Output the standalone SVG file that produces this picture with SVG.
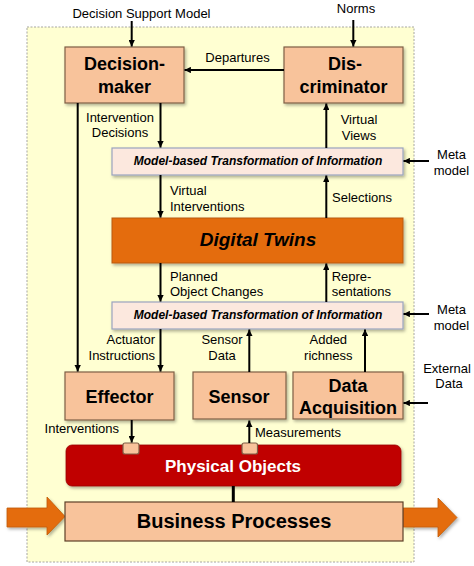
<svg xmlns="http://www.w3.org/2000/svg" width="474" height="566" viewBox="0 0 474 566">
<defs>
<marker id="ah" viewBox="0 0 10 10" refX="10" refY="5" markerWidth="3.2" markerHeight="3.2" orient="auto" markerUnits="strokeWidth">
<path d="M0,0 L10,5 L0,10 z" fill="#000"/>
</marker>
<filter id="sh" x="-10%" y="-10%" width="130%" height="140%">
<feDropShadow dx="1.5" dy="2" stdDeviation="1.5" flood-color="#000" flood-opacity="0.3"/>
</filter>
</defs>
<style>
.lbl{font-family:"Liberation Sans",Arial,sans-serif;font-size:13px;fill:#000}
.box{fill:#f8c39b;stroke:#7f5f46;stroke-width:1.2}
.bt{font-family:"Liberation Sans",Arial,sans-serif;font-size:18px;font-weight:bold;fill:#000;text-anchor:middle}
.mbt{fill:#fce8de;stroke:#9aa3bf;stroke-width:1.2}
.mt{font-family:"Liberation Sans",Arial,sans-serif;font-size:12px;font-weight:bold;font-style:italic;fill:#000;text-anchor:middle}
.ar{stroke:#000;stroke-width:2;fill:none;marker-end:url(#ah)}
.mid{text-anchor:middle}
.end{text-anchor:end}
</style>

<rect id="panel" x="27" y="27" width="387" height="535" fill="#ffffd2" stroke="#a6a6a0" stroke-width="1" stroke-dasharray="2,1.5"/>

<g id="block-arrows" fill="#e46c0a" stroke="#c05a08" stroke-width="0.8" filter="url(#sh)">
<path d="M7,508 L47,508 L47,497 L65,516.5 L47,535 L47,527 L7,527 z"/>
<path d="M403,508 L438,508 L438,498 L457,517.5 L438,537 L438,527 L403,527 z"/>
</g>

<g id="decision-maker">
<rect class="box" x="65" y="47" width="119" height="56" filter="url(#sh)"/>
<text class="bt" x="124.5" y="70">Decision-</text>
<text class="bt" x="124.5" y="93">maker</text>
</g>

<g id="discriminator">
<rect class="box" x="284" y="47" width="119" height="56" filter="url(#sh)"/>
<text class="bt" x="345" y="70">Dis-</text>
<text class="bt" x="343.5" y="93">criminator</text>
</g>

<g id="mbt-top">
<rect class="mbt" x="112" y="148" width="291" height="27" filter="url(#sh)"/>
<text class="mt" x="258" y="165">Model-based Transformation of Information</text>
</g>

<g id="digital-twins">
<rect x="112" y="218" width="291" height="45" fill="#e46c0a" stroke="#b85a12" stroke-width="1" filter="url(#sh)"/>
<text x="258" y="246" font-family="Liberation Sans, Arial, sans-serif" font-size="19" font-weight="bold" font-style="italic" text-anchor="middle" fill="#000">Digital Twins</text>
</g>

<g id="mbt-bottom">
<rect class="mbt" x="112" y="302" width="291" height="27" filter="url(#sh)"/>
<text class="mt" x="258" y="318.5">Model-based Transformation of Information</text>
</g>

<g id="effector">
<rect class="box" x="65" y="372" width="109" height="48" filter="url(#sh)"/>
<text class="bt" x="119.5" y="403">Effector</text>
</g>

<g id="sensor">
<rect class="box" x="193" y="372" width="93" height="47" filter="url(#sh)"/>
<text class="bt" x="239" y="403">Sensor</text>
</g>

<g id="data-acquisition">
<rect class="box" x="293" y="372" width="110" height="47" filter="url(#sh)"/>
<text class="bt" x="348" y="391.5">Data</text>
<text class="bt" x="348" y="413.5">Acquisition</text>
</g>

<g id="physical-objects">
<rect x="66" y="445" width="335" height="41" rx="6" fill="#c00000" stroke="#9a0000" stroke-width="0.8" filter="url(#sh)"/>
<text x="233" y="472" font-family="Liberation Sans, Arial, sans-serif" font-size="17" font-weight="bold" text-anchor="middle" fill="#fff">Physical Objects</text>
<rect class="box" x="123" y="443" width="16" height="11" rx="2"/>
<rect class="box" x="242" y="443" width="15.5" height="11" rx="2"/>
</g>

<g id="business-processes">
<rect x="65" y="502" width="338" height="39" fill="#f8c39b" stroke="#5e4028" stroke-width="1.2"/>
<text x="234" y="528" font-family="Liberation Sans, Arial, sans-serif" font-size="20" font-weight="bold" text-anchor="middle" fill="#000">Business Processes</text>
</g>

<g id="connectors">
<line class="ar" x1="131.7" y1="21" x2="131.7" y2="46.5"/>
<line class="ar" x1="353.3" y1="20" x2="353.3" y2="46.5"/>
<line class="ar" x1="284" y1="70" x2="184.5" y2="70"/>
<line class="ar" x1="160.5" y1="103" x2="160.5" y2="147.5"/>
<line class="ar" x1="77.7" y1="103" x2="77.7" y2="371.5"/>
<line class="ar" x1="326.3" y1="148" x2="326.3" y2="103.5"/>
<line class="ar" x1="429" y1="161" x2="403.5" y2="161"/>
<line class="ar" x1="160.5" y1="175" x2="160.5" y2="217.5"/>
<line class="ar" x1="326.3" y1="218" x2="326.3" y2="175.5"/>
<line class="ar" x1="160.5" y1="263" x2="160.5" y2="301.5"/>
<line class="ar" x1="326.3" y1="302" x2="326.3" y2="263.5"/>
<line class="ar" x1="429" y1="314" x2="403.5" y2="314"/>
<line class="ar" x1="160.5" y1="329" x2="160.5" y2="371.5"/>
<line class="ar" x1="249.3" y1="372" x2="249.3" y2="329.5"/>
<line class="ar" x1="365" y1="372" x2="365" y2="329.5"/>
<line class="ar" x1="428" y1="403" x2="403.5" y2="403"/>
<line class="ar" x1="131.7" y1="420" x2="131.7" y2="442.5"/>
<line class="ar" x1="249.3" y1="443" x2="249.3" y2="420.5"/>
<line x1="233.3" y1="486" x2="233.3" y2="502" stroke="#000" stroke-width="3"/>
</g>

<g id="labels">
<text class="lbl mid" x="141.5" y="18.3">Decision Support Model</text>
<text class="lbl mid" x="356" y="12.7">Norms</text>
<text class="lbl mid" x="237.5" y="62">Departures</text>
<text class="lbl mid" x="120" y="121.7">Intervention</text>
<text class="lbl mid" x="120" y="137.3">Decisions</text>
<text class="lbl mid" x="359" y="124">Virtual</text>
<text class="lbl mid" x="359" y="139.5">Views</text>
<text class="lbl mid" x="451.5" y="159">Meta</text>
<text class="lbl mid" x="451.5" y="174.7">model</text>
<text class="lbl" x="170" y="195">Virtual</text>
<text class="lbl" x="170" y="210.7">Interventions</text>
<text class="lbl" x="332" y="201.7">Selections</text>
<text class="lbl" x="170" y="280.7">Planned</text>
<text class="lbl" x="170" y="296.3">Object Changes</text>
<text class="lbl" x="331.7" y="280.7">Repre-</text>
<text class="lbl" x="331.7" y="296.3">sentations</text>
<text class="lbl mid" x="451.5" y="314">Meta</text>
<text class="lbl mid" x="451.5" y="330">model</text>
<text class="lbl end" x="155" y="344">Actuator</text>
<text class="lbl end" x="155" y="360">Instructions</text>
<text class="lbl mid" x="222" y="344">Sensor</text>
<text class="lbl mid" x="222" y="360">Data</text>
<text class="lbl mid" x="328.3" y="344">Added</text>
<text class="lbl mid" x="328.3" y="360">richness</text>
<text class="lbl mid" x="447" y="372.7">External</text>
<text class="lbl mid" x="449" y="388.3">Data</text>
<text class="lbl end" x="119" y="433">Interventions</text>
<text class="lbl" x="255" y="436.7">Measurements</text>
</g>
</svg>
